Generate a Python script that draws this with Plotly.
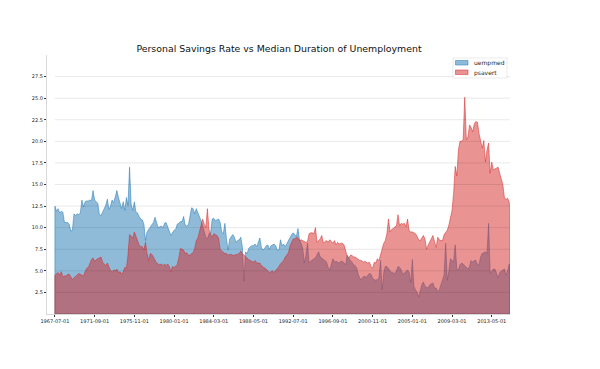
import plotly.graph_objects as go

title_text = "Personal Savings Rate vs Median Duration of Unemployment"
name_blue = "uempmed"
name_red = "psavert"

years = list(range(1967, 2016))
dates = []
for yr in years:
    for mo in (1, 3, 5, 7, 9, 11):
        if (yr == 1967 and mo < 7) or (yr == 2015 and mo > 3):
            continue
        dates.append(f"{yr}-{mo:02d}-01")
dates.append("2015-04-01")

blue_values = [
    12.5, 11.9, 12.2,
    11.7, 11.9, 11.8, 10.6, 10.6, 10.6,
    10.4, 9.6, 9.7, 11.6, 11.4, 11.6,
    11.5, 11.7, 13.2, 12.4, 13.0, 13.1,
    13.1, 13.2, 13.1, 14.3, 13.2, 13.0,
    12.8, 11.5, 11.4, 11.8, 12.2, 12.6,
    13.3, 12.1, 12.5, 13.2, 12.9, 13.7,
    14.3, 13.5, 12.9, 12.2, 13.0, 12.0,
    13.5, 12.6, 17.0, 12.7, 12.0, 13.0,
    11.8, 11.7, 11.3, 11.0, 10.9, 10.4,
    8.5, 9.5, 9.8, 10.1, 10.3, 10.6,
    11.2, 10.6, 10.0, 10.1, 10.2, 10.0,
    10.5, 10.6, 10.1, 9.6, 9.1, 9.4,
    9.7, 9.8, 10.4, 10.5, 10.7, 10.7,
    11.3, 10.3, 10.2, 10.3, 11.5, 12.3,
    12.2, 11.6, 12.2, 11.8, 11.2, 10.8,
    10.2, 9.6, 8.9, 8.7, 9.3, 9.4,
    11.0, 11.1, 10.8, 10.9, 11.0, 10.6,
    9.5, 9.3, 10.5, 8.7, 7.4, 8.7,
    9.0, 9.2, 8.9, 8.3, 8.5, 8.6,
    8.9, 7.8, 3.8, 7.2, 7.0, 7.6,
    7.8, 7.9, 7.9, 8.1, 7.8, 8.2,
    8.8, 7.7, 7.4, 7.6, 7.9, 8.0,
    7.5, 7.9, 8.0, 8.1, 7.9, 7.4,
    7.4, 8.6, 7.9, 8.1, 7.8, 8.2,
    8.5, 8.9, 9.2, 9.4, 9.2, 9.0,
    9.9, 8.6, 8.2, 7.6, 5.9, 6.8,
    8.2, 5.9, 6.1, 6.3, 6.4, 6.5,
    6.9, 7.2, 6.6, 6.5, 6.3, 6.2,
    6.0, 5.4, 5.1, 5.7, 6.4, 6.0,
    6.1, 6.0, 5.9, 6.1, 6.1, 5.9,
    5.7, 6.8, 6.4, 6.2, 6.0, 5.7,
    5.6, 5.3, 4.6, 4.1, 4.0, 4.3,
    4.4, 4.2, 4.5, 4.7, 4.6, 4.1,
    4.0, 3.9, 4.0, 4.2, 6.2, 2.8,
    4.8, 5.5, 5.5, 5.2, 5.0, 4.8,
    4.7, 4.7, 5.0, 5.5, 5.4, 5.1,
    4.6, 4.8, 5.0, 5.1, 4.8, 3.6,
    6.3, 3.2, 2.8, 2.5, 2.0, 2.9,
    3.4, 3.7, 3.2, 3.1, 3.0, 3.4,
    3.5, 3.6, 3.0, 3.0, 2.6, 2.8,
    3.4, 3.9, 4.5, 8.2, 3.9, 5.0,
    6.4, 6.2, 6.0, 8.0, 5.2, 5.1,
    5.7, 5.9, 5.8, 5.6, 5.4, 5.2,
    5.5, 6.2, 6.0, 6.2, 6.2, 5.7,
    5.7, 6.6, 7.0, 7.1, 7.2, 7.0,
    10.5, 4.7, 5.0, 5.2, 5.2, 4.8,
    4.2, 4.8, 5.0, 5.1, 5.2, 4.5,
    5.0, 5.8, 5.6,
]

red_values = [
    4.5, 4.7, 4.8,
    4.5, 4.9, 4.3, 4.4, 4.4, 4.6,
    4.6, 4.2, 4.0, 4.2, 4.4, 4.6,
    4.7, 4.6, 4.5, 4.4, 4.9, 5.3,
    5.4, 5.9, 6.3, 6.5, 6.1, 6.3,
    6.4, 6.5, 6.6, 6.0, 5.8, 5.6,
    5.9, 5.5, 5.0, 4.9, 5.1, 5.0,
    5.2, 4.8, 4.9, 4.6, 4.9, 5.4,
    5.3, 6.8, 9.2, 9.0, 8.8, 9.5,
    9.0, 8.7, 8.0, 7.8, 7.8, 7.4,
    8.3, 7.0, 6.2, 7.0, 6.9, 6.6,
    6.2, 5.9, 5.8, 5.7, 5.8, 5.6,
    5.8, 5.6, 5.8, 5.5, 4.9, 5.5,
    5.4, 5.6, 5.7, 6.5, 7.6, 7.5,
    7.4, 7.0, 7.1, 6.8, 6.8, 7.0,
    7.1, 7.6, 8.5, 8.8, 9.5, 10.1,
    11.0, 10.4, 10.0, 12.2, 9.8, 9.2,
    8.9, 9.3, 9.2, 9.1, 8.8, 7.5,
    7.3, 7.2, 7.0, 7.0, 6.8, 6.9,
    6.9, 6.8, 6.8, 6.9, 6.9, 7.0,
    7.3, 7.0, 6.8, 6.6, 6.5, 6.3,
    6.2, 6.1, 6.0, 6.2, 5.9, 5.9,
    5.9, 5.6, 5.5, 5.4, 5.2, 5.0,
    4.8, 4.9, 5.0, 4.8, 5.0, 5.3,
    5.5, 5.8, 6.0, 6.2, 6.6, 6.9,
    7.1, 7.9, 8.3, 8.7, 8.7, 8.9,
    8.8, 8.5, 8.6, 8.5, 8.4, 8.3,
    8.4, 9.3, 9.4, 9.4, 9.3, 10.0,
    8.3, 8.5, 8.7, 9.1, 8.2, 8.4,
    8.5, 8.3, 8.6, 8.4, 8.2, 8.5,
    8.0, 8.3, 8.1, 8.2, 8.2, 8.0,
    7.4, 6.7, 6.5, 6.8, 6.8, 6.6,
    6.6, 6.5, 6.4, 6.2, 6.2, 6.0,
    6.1, 6.0, 5.9, 6.0, 5.5, 5.3,
    6.0, 5.9, 6.4, 6.2, 7.0, 7.6,
    8.2, 8.5, 9.3, 11.0, 9.5, 9.8,
    9.9, 10.1, 10.2, 11.5, 10.2, 10.5,
    10.4, 10.5, 10.1, 11.0, 9.6, 9.5,
    9.5, 9.4, 9.3, 9.0, 8.6, 8.5,
    8.8, 9.1, 8.7, 7.5, 8.0, 8.4,
    8.6, 9.1, 8.4, 7.7, 8.9, 8.6,
    8.5, 8.5, 9.2, 9.4, 9.7, 10.3,
    11.2, 12.0, 14.0, 17.1, 16.0, 19.0,
    20.0, 20.0, 20.2, 25.1, 20.2, 20.5,
    21.9, 21.6, 21.1, 22.0, 22.3, 22.2,
    20.9, 20.0, 19.2, 20.1, 17.6, 19.0,
    19.8, 16.3, 17.6, 16.7, 16.8, 16.9,
    17.0, 16.3, 15.7, 15.0, 13.4, 13.3,
    13.4, 13.0, 11.8,
]

x_tick_labels = ["1967-07-01", "1971-09-01", "1975-11-01", "1980-01-01", "1984-03-01",
                 "1988-05-01", "1992-07-01", "1996-09-01", "2000-11-01", "2005-01-01",
                 "2009-03-01", "2013-05-01"]
y_tick_values = [2.5, 5.0, 7.5, 10.0, 12.5, 15.0, 17.5, 20.0, 22.5, 25.0, 27.5]

FONT = "DejaVu Sans"
BLUE = "rgba(31,119,180,0.5)"
RED = "rgba(214,39,40,0.5)"

fig = go.Figure()
fig.add_trace(go.Scatter(x=dates, y=blue_values, name=name_blue, mode="lines", fill="tozeroy",
                         fillcolor=BLUE, line=dict(color=BLUE, width=1)))
fig.add_trace(go.Scatter(x=dates, y=red_values, name=name_red, mode="lines", fill="tozeroy",
                         fillcolor=RED, line=dict(color=RED, width=1)))

shapes = [dict(type="line", xref="x", yref="y", x0=dates[0], x1=dates[-1], y0=v, y1=v,
               line=dict(color="rgba(0,0,0,0.09)", width=1), layer="above")
          for v in y_tick_values]
# outlines of the filled regions along the baseline and the two ends
for color, values in ((BLUE, blue_values), (RED, red_values)):
    shapes.append(dict(type="line", xref="x", yref="y", x0=dates[0], x1=dates[-1], y0=0, y1=0,
                       line=dict(color=color, width=1.2)))
    shapes.append(dict(type="line", xref="x", yref="y", x0=dates[0], x1=dates[0], y0=0, y1=values[0],
                       line=dict(color=color, width=1)))
    shapes.append(dict(type="line", xref="x", yref="y", x0=dates[-1], x1=dates[-1], y0=0, y1=values[-1],
                       line=dict(color=color, width=1)))


def px(x, y):
    return (x - 47) / 463, (314 - y) / 259


def box(x0, y0, x1, y1, fill, line=None):
    a, b = px(x0, y0)
    c, d = px(x1, y1)
    return dict(type="rect", xref="paper", yref="paper", x0=a, y0=b, x1=c, y1=d, fillcolor=fill,
                line=dict(color=line or "rgba(0,0,0,0)", width=1 if line else 0), layer="above")


# legend panel
shapes.append(box(453, 58, 507, 78, "white", "rgba(0,0,0,0.08)"))
shapes.append(box(455.5, 60.5, 468, 65, BLUE, BLUE))
shapes.append(box(455.5, 70, 468, 74.5, RED, RED))

annotations = []
for label, cy in ((name_blue, 63), (name_red, 72.5)):
    a, b = px(473, cy)
    annotations.append(dict(text=label, xref="paper", yref="paper", x=a, y=b, xanchor="left",
                            yanchor="middle", showarrow=False, xshift=-1, font=dict(size=6, color="#262626")))

# watermark at the right edge
a, b = px(594, 281.5)
annotations.append(dict(text="&#160;", xref="paper", yref="paper", x=a, y=b, xanchor="left", yanchor="middle",
                        showarrow=False, width=8, height=12, bgcolor="#e8501c", borderpad=0,
                        font=dict(size=6, color="#e8501c")))

# the page adds an 8px body margin, so the figure's own margins are 8px smaller on top and left
fig.update_layout(
    width=600, height=369,
    margin=dict(l=39, r=98, t=47, b=63, autoexpand=False),
    paper_bgcolor="white", plot_bgcolor="white",
    font=dict(family=FONT, color="#262626"),
    showlegend=False,
    title=dict(text=title_text, x=271 / 600, xanchor="center", y=1 - 40.5 / 369, yanchor="middle",
               font=dict(family=FONT, size=9.4, color="#111111")),
    xaxis=dict(type="date", range=["1966-09-01", "2015-04-01"], tickvals=x_tick_labels,
               ticktext=x_tick_labels, tickfont=dict(size=5), showgrid=False, zeroline=False,
               showline=True, linecolor="rgba(0,0,0,0.15)", linewidth=1,
               ticks="outside", ticklen=2, tickwidth=0.6, tickcolor="#333333"),
    yaxis=dict(range=[0, 30], tickvals=y_tick_values, ticktext=[f"{v:.1f}" for v in y_tick_values],
               tickfont=dict(size=5), showgrid=False, zeroline=False,
               showline=True, linecolor="rgba(0,0,0,0.15)", linewidth=1,
               ticks="outside", ticklen=2, tickwidth=0.6, tickcolor="#333333"),
    shapes=shapes,
    annotations=annotations,
)
assert len(dates) == len(blue_values) == len(red_values)
fig.write_html("out.html")
